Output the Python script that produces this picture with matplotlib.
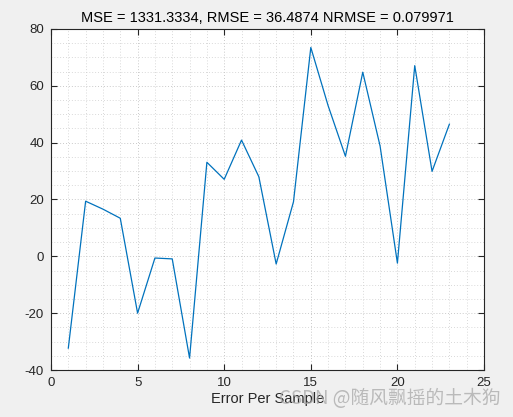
import matplotlib.pyplot as plt
from matplotlib.ticker import MultipleLocator

plt.rcParams['axes.unicode_minus'] = False
plt.rcParams['font.family'] = ['Liberation Sans', 'DejaVu Sans']

# error value per sample
samples = list(range(1, 24))
errors = [-32.3, 19.4, 16.6, 13.4, -20.0, -0.6, -0.9, -35.8, 33.1, 27.1,
          40.9, 28.0, -2.7, 19.2, 73.5, 53.0, 35.2, 64.8, 38.8, -2.4,
          67.1, 29.9, 46.5]
title_text = 'MSE = 1331.3334, RMSE = 36.4874 NRMSE = 0.079971'

fig = plt.figure(figsize=(5.13, 4.17), dpi=100, facecolor='#f0f0f0')
ax = fig.add_axes([0.0994, 0.1127, 0.8441, 0.8178])
ax.set_facecolor('white')

ax.plot(samples, errors, color='#0072BD', linewidth=0.9)

ax.set_xlim(0, 25)
ax.set_ylim(-40, 80)
ax.xaxis.set_major_locator(MultipleLocator(5))
ax.yaxis.set_major_locator(MultipleLocator(20))
ax.xaxis.set_minor_locator(MultipleLocator(1))
ax.yaxis.set_minor_locator(MultipleLocator(5))

ax.grid(which='major', linestyle=(0, (1, 2.5)), color='#b8b8b8', linewidth=0.6)
ax.grid(which='minor', linestyle=(0, (1, 2.5)), color='#cccccc', linewidth=0.6)
ax.set_axisbelow(True)

ax.tick_params(which='major', direction='in', length=4, width=0.8,
               top=True, right=True, labelsize=9.5, colors='#262626', pad=5)
ax.tick_params(which='minor', length=0)
for s in ax.spines.values():
    s.set_color('#262626')
    s.set_linewidth(0.8)

ax.set_title(title_text, fontsize=10.5, color='#000000', pad=5)
ax.set_xlabel('Error Per Sample', fontsize=10.5, color='#262626', labelpad=2)

# watermark
fig.text(0.975, 0.045, 'CSDN @随风飘摇的土木狗', ha='right', va='center',
         fontsize=13.5, color='#a8a8a8', alpha=0.75,
         family=['Noto Sans CJK SC', 'DejaVu Sans'])

fig.savefig('out.png', dpi=100, facecolor=fig.get_facecolor())
